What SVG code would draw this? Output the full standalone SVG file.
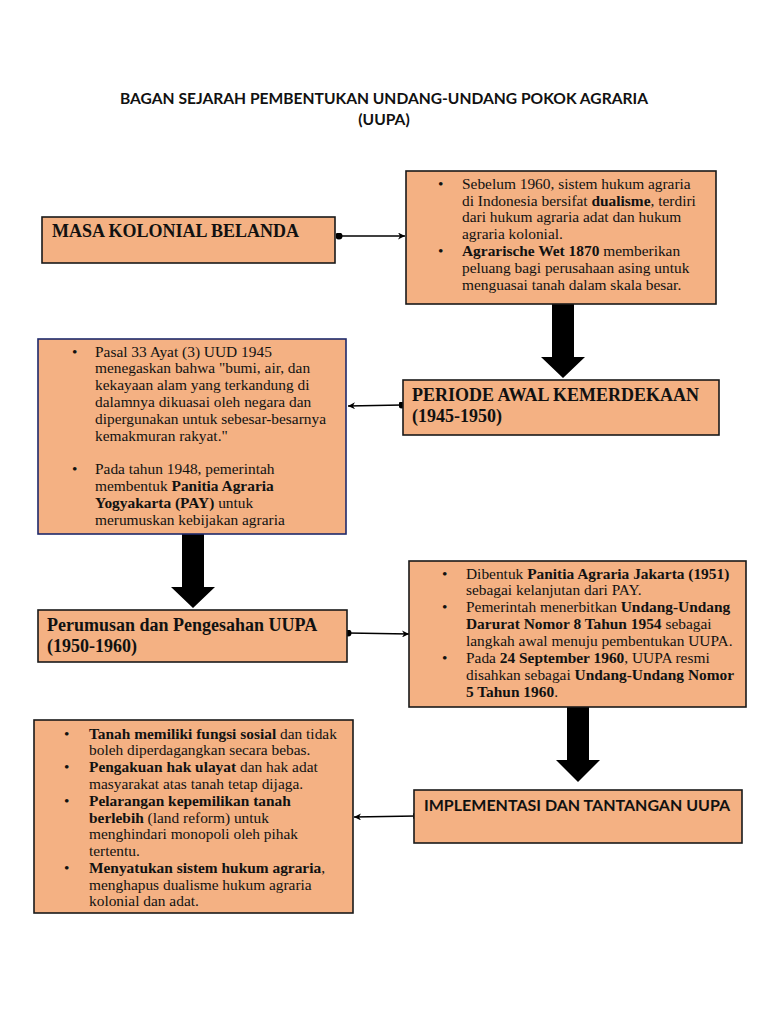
<svg xmlns="http://www.w3.org/2000/svg" width="768" height="1024" viewBox="0 0 768 1024">
<style>
.box{fill:#F4B183;stroke:#1a1a1a;stroke-width:1.6}
.nbox{fill:#F4B183;stroke:#1F2A6B;stroke-width:1.6}
.t{font-family:"Liberation Serif","Times New Roman",serif;font-size:15.4px;fill:#111}
.h{font-family:"Liberation Serif","Times New Roman",serif;font-size:18px;font-weight:bold;fill:#111}
.hs{font-family:Lato,"Liberation Sans",sans-serif;font-size:16px;font-weight:bold;fill:#111}
.title{font-family:Lato,"Liberation Sans",sans-serif;font-size:15.6px;font-weight:bold;fill:#111;text-anchor:middle}
.b{font-weight:bold}
.con{stroke:#000;stroke-width:1.5;fill:none;marker-start:url(#dot);marker-end:url(#arr)}
.big{fill:#000}
</style>
<defs>
<marker id="dot" viewBox="0 0 10 10" refX="5" refY="5" markerWidth="7" markerHeight="7" markerUnits="userSpaceOnUse"><circle cx="5" cy="5" r="5" fill="#000"/></marker>
<marker id="arr" viewBox="0 0 10 10" refX="10" refY="5" markerWidth="9" markerHeight="7" markerUnits="userSpaceOnUse" orient="auto"><path d="M0,0 L10,5 L0,10 L3,5 Z" fill="#000"/></marker>
</defs>
<rect width="768" height="1024" fill="#fff"/>
<g id="title">
<text class="title" x="384" y="104">BAGAN SEJARAH PEMBENTUKAN UNDANG-UNDANG POKOK AGRARIA</text>
<text class="title" x="384" y="125">(UUPA)</text>
</g>
<g id="connectors">
<line class="con" x1="339" y1="236" x2="405" y2="236"/>
<line class="con" x1="402" y1="405" x2="348" y2="406"/>
<line class="con" x1="348" y1="633" x2="409" y2="634"/>
<line class="con" x1="416" y1="816" x2="354" y2="817"/>
<path class="big" d="M552,304 H574 V357 H585 L563,378 L541,357 H552 Z"/>
<path class="big" d="M182,534 H204 V587 H215 L193,608 L171,587 H182 Z"/>
<path class="big" d="M567,707 H589 V760 H600 L578,782 L556,760 H567 Z"/>
</g>
<g id="n1">
<rect class="box" x="42" y="217" width="293" height="46"/>
<text class="h" x="52" y="237">MASA KOLONIAL BELANDA</text>
</g>
<g id="n2">
<rect class="box" x="406" y="171" width="310" height="133"/>
<g class="t">
<text x="438" y="189">•</text>
<text x="462" y="189">Sebelum 1960, sistem hukum agraria</text>
<text x="462" y="206">di Indonesia bersifat <tspan class="b">dualisme</tspan>, terdiri</text>
<text x="462" y="222">dari hukum agraria adat dan hukum</text>
<text x="462" y="239">agraria kolonial.</text>
<text x="438" y="256">•</text>
<text x="462" y="256"><tspan class="b">Agrarische Wet 1870</tspan> memberikan</text>
<text x="462" y="273">peluang bagi perusahaan asing untuk</text>
<text x="462" y="290">menguasai tanah dalam skala besar.</text>
</g>
</g>
<g id="n3">
<rect class="box" x="403" y="380" width="316" height="55"/>
<text class="h" x="412" y="401">PERIODE AWAL KEMERDEKAAN</text>
<text class="h" x="412" y="422">(1945-1950)</text>
</g>
<g id="n4">
<rect class="nbox" x="38" y="339" width="308" height="195"/>
<g class="t">
<text x="72" y="357">•</text>
<text x="95" y="357">Pasal 33 Ayat (3) UUD 1945</text>
<text x="95" y="373">menegaskan bahwa "bumi, air, dan</text>
<text x="95" y="390">kekayaan alam yang terkandung di</text>
<text x="95" y="407">dalamnya dikuasai oleh negara dan</text>
<text x="95" y="424">dipergunakan untuk sebesar-besarnya</text>
<text x="95" y="441">kemakmuran rakyat."</text>
<text x="72" y="474">•</text>
<text x="95" y="474">Pada tahun 1948, pemerintah</text>
<text x="95" y="491">membentuk <tspan class="b">Panitia Agraria</tspan></text>
<text x="95" y="508"><tspan class="b">Yogyakarta (PAY)</tspan> untuk</text>
<text x="95" y="525">merumuskan kebijakan agraria</text>
</g>
</g>
<g id="n5">
<rect class="box" x="38" y="610" width="309" height="52"/>
<text class="h" x="47" y="631">Perumusan dan Pengesahan UUPA</text>
<text class="h" x="47" y="652">(1950-1960)</text>
</g>
<g id="n6">
<rect class="box" x="409" y="561" width="337" height="146"/>
<g class="t">
<text x="442" y="579">•</text>
<text x="466" y="579">Dibentuk <tspan class="b">Panitia Agraria Jakarta (1951)</tspan></text>
<text x="466" y="595">sebagai kelanjutan dari PAY.</text>
<text x="442" y="612">•</text>
<text x="466" y="612">Pemerintah menerbitkan <tspan class="b">Undang-Undang</tspan></text>
<text x="466" y="629"><tspan class="b">Darurat Nomor 8 Tahun 1954</tspan> sebagai</text>
<text x="466" y="646">langkah awal menuju pembentukan UUPA.</text>
<text x="442" y="663">•</text>
<text x="466" y="663">Pada <tspan class="b">24 September 1960</tspan>, UUPA resmi</text>
<text x="466" y="680">disahkan sebagai <tspan class="b">Undang-Undang Nomor</tspan></text>
<text x="466" y="697"><tspan class="b">5 Tahun 1960</tspan>.</text>
</g>
</g>
<g id="n7">
<rect class="box" x="414" y="790" width="328" height="53"/>
<text class="hs" x="424" y="811">IMPLEMENTASI DAN TANTANGAN UUPA</text>
</g>
<g id="n8">
<rect class="box" x="34" y="720" width="319" height="193"/>
<g class="t">
<text x="64" y="739">•</text>
<text x="89" y="739"><tspan class="b">Tanah memiliki fungsi sosial</tspan> dan tidak</text>
<text x="89" y="755">boleh diperdagangkan secara bebas.</text>
<text x="64" y="772">•</text>
<text x="89" y="772"><tspan class="b">Pengakuan hak ulayat</tspan> dan hak adat</text>
<text x="89" y="789">masyarakat atas tanah tetap dijaga.</text>
<text x="64" y="806">•</text>
<text x="89" y="806"><tspan class="b">Pelarangan kepemilikan tanah</tspan></text>
<text x="89" y="823"><tspan class="b">berlebih</tspan> (land reform) untuk</text>
<text x="89" y="839">menghindari monopoli oleh pihak</text>
<text x="89" y="856">tertentu.</text>
<text x="64" y="873">•</text>
<text x="89" y="873"><tspan class="b">Menyatukan sistem hukum agraria</tspan>,</text>
<text x="89" y="890">menghapus dualisme hukum agraria</text>
<text x="89" y="906">kolonial dan adat.</text>
</g>
</g>
</svg>
